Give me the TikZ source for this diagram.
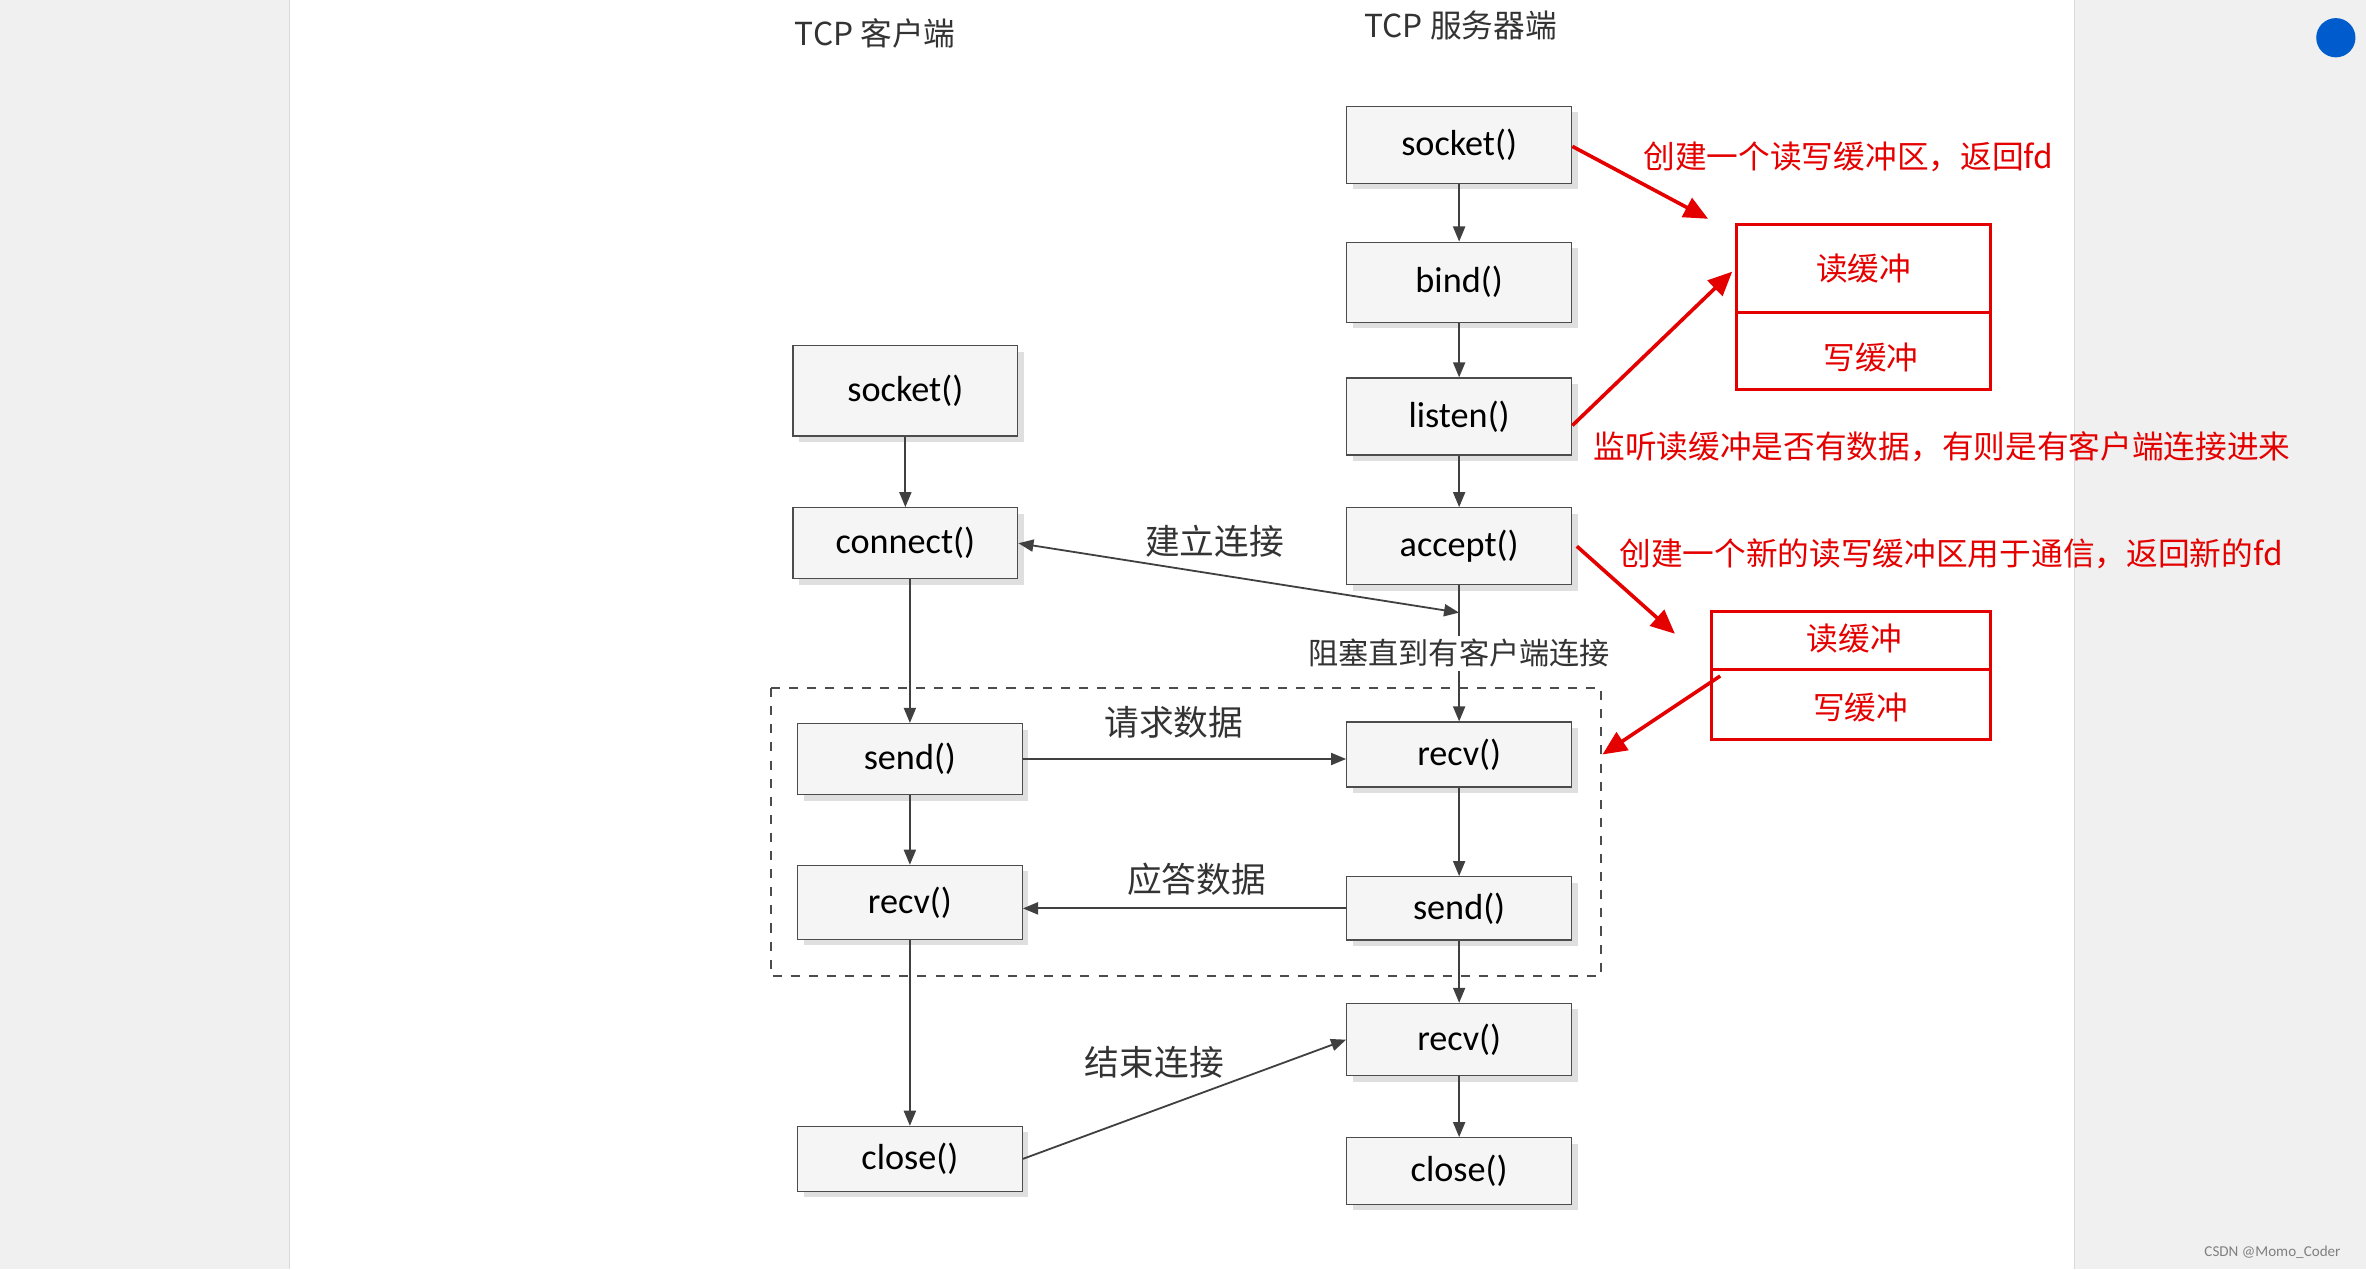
\documentclass[tikz,border=0pt]{standalone}
\usepackage{fontspec}
\setmainfont{Carlito}
\newfontfamily\cjk{Noto Sans CJK SC}
\usetikzlibrary{arrows.meta,shadows}
\begin{document}
\begin{tikzpicture}[x=0.5pt,y=-0.5pt,
  box/.style={draw=black!70,fill=black!4,drop shadow={shadow xshift=2pt,shadow yshift=-2pt,fill=black!25},font=\fontsize{12}{14}\selectfont,inner sep=0pt},
  ar/.style={draw=black!75,line width=0.6pt,-{Triangle[length=5pt,width=4pt]}},
  lab/.style={font=\cjk\fontsize{11.5}{13}\selectfont,text=black!80},
  red/.style={text=red!90!black,font=\cjk\fontsize{10.5}{12}\selectfont},
  rar/.style={draw=red!90!black,line width=1.2pt,-{Triangle[length=8pt,width=7pt]}}]
\useasboundingbox (0,0) rectangle (1568,841);
\fill[black!6] (0,0) rectangle (192,841);
\fill[black!6] (1375,0) rectangle (1568,841);
\draw[black!15] (192,0)--(192,841) (1375,0)--(1375,841);
% titles
\node[lab,font=\cjk\fontsize{10.5}{12}\selectfont] (tc) at (580,22) {TCP 客户端};
\node[lab,font=\cjk\fontsize{10.5}{12}\selectfont] (ts) at (968,17) {TCP 服务器端};
% server boxes
\node[box,minimum width=74.5pt,minimum height=25.5pt] (ssock) at (967,96) {socket()};
\node[box,minimum width=74.5pt,minimum height=26.5pt] (sbind) at (967,187) {bind()};
\node[box,minimum width=74.5pt,minimum height=25.5pt] (slis) at (967,276) {listen()};
\node[box,minimum width=74.5pt,minimum height=25.5pt] (sacc) at (967,362) {accept()};
\node[box,minimum width=74.5pt,minimum height=21.5pt] (srecv) at (967,500) {recv()};
\node[box,minimum width=74.5pt,minimum height=21pt] (ssend) at (967,602) {send()};
\node[box,minimum width=74.5pt,minimum height=24pt] (srecv2) at (967,689) {recv()};
\node[box,minimum width=74.5pt,minimum height=22pt] (sclose) at (967,776) {close()};
% client boxes
\node[box,minimum width=74.5pt,minimum height=30pt] (csock) at (600,259) {socket()};
\node[box,minimum width=74.5pt,minimum height=23.5pt] (cconn) at (600,360) {connect()};
\node[box,minimum width=74.5pt,minimum height=23.5pt] (csend) at (603,503) {send()};
\node[box,minimum width=74.5pt,minimum height=24.5pt] (crecv) at (603,598) {recv()};
\node[box,minimum width=74.5pt,minimum height=21.5pt] (cclose) at (603,768) {close()};
% dashed
\draw[dashed,black!70,line width=0.6pt] (511,456) rectangle (1061,647);
% server chain
\draw[ar] (ssock) -- (sbind);
\draw[ar] (sbind) -- (slis);
\draw[ar] (slis) -- (sacc);
\node[lab,fill=white,inner sep=1pt,font=\cjk\fontsize{10}{12}\selectfont] (blk) at (967,433) {阻塞直到有客户端连接};
\coordinate (mid) at (967,406);
\draw[draw=black!75,line width=0.6pt] (sacc) -- (blk);
\draw[ar] (blk) -- (srecv);
\draw[ar] (srecv) -- (ssend);
\draw[ar] (ssend) -- (srecv2);
\draw[ar] (srecv2) -- (sclose);
% client chain
\draw[ar] (csock) -- (cconn);
\draw[ar] (cconn.south -| csend) -- (csend);
\draw[ar] (csend) -- (crecv);
\draw[ar] (crecv) -- (cclose);
% cross
\draw[ar,{Triangle[length=5pt,width=4pt]}-{Triangle[length=5pt,width=4pt]}] (cconn.east) -- (mid);
\node[lab] (l1) at (805,359) {建立连接};
\draw[ar] (csend.east) -- (srecv.west |- csend.east);
\node[lab] (l2) at (778,479) {请求数据};
\draw[ar] (ssend.west) -- (crecv.east |- ssend.west);
\node[lab] (l3) at (793,583) {应答数据};
\draw[ar] (cclose.east) -- (srecv2.west);
\node[lab] (l4) at (765,704) {结束连接};
% red boxes
\draw[red!90!black,line width=1pt] (1151,149) rectangle (1319,258) (1151,207)--(1319,207);
\node[red] (r1) at (1235,178) {读缓冲};
\node[red] (r2) at (1240,237) {写缓冲};
\draw[red!90!black,line width=1pt] (1134,405) rectangle (1319,490) (1134,444)--(1319,444);
\node[red] (r3) at (1229,423) {读缓冲};
\node[red] (r4) at (1233,469) {写缓冲};
\node[red] (t1) at (1225,104) {创建一个读写缓冲区，返回fd};
\node[red] (t2) at (1287,296) {监听读缓冲是否有数据，有则是有客户端连接进来};
\node[red] (t3) at (1293,367) {创建一个新的读写缓冲区用于通信，返回新的fd};
\draw[rar] (1042,97) -- (1132,145);
\draw[rar] (1042,282) -- (1148,180);
\draw[rar] (1045,362) -- (1110,420);
\draw[rar] (1140,448) -- (1062,500);
% icon and watermark
\fill[blue!55!cyan!80!black] (1548,25) circle (13);
\node[font=\fontsize{5}{6}\selectfont,text=black!50] (wm) at (1506,830) {CSDN @Momo\_Coder};
\end{tikzpicture}
\end{document}
